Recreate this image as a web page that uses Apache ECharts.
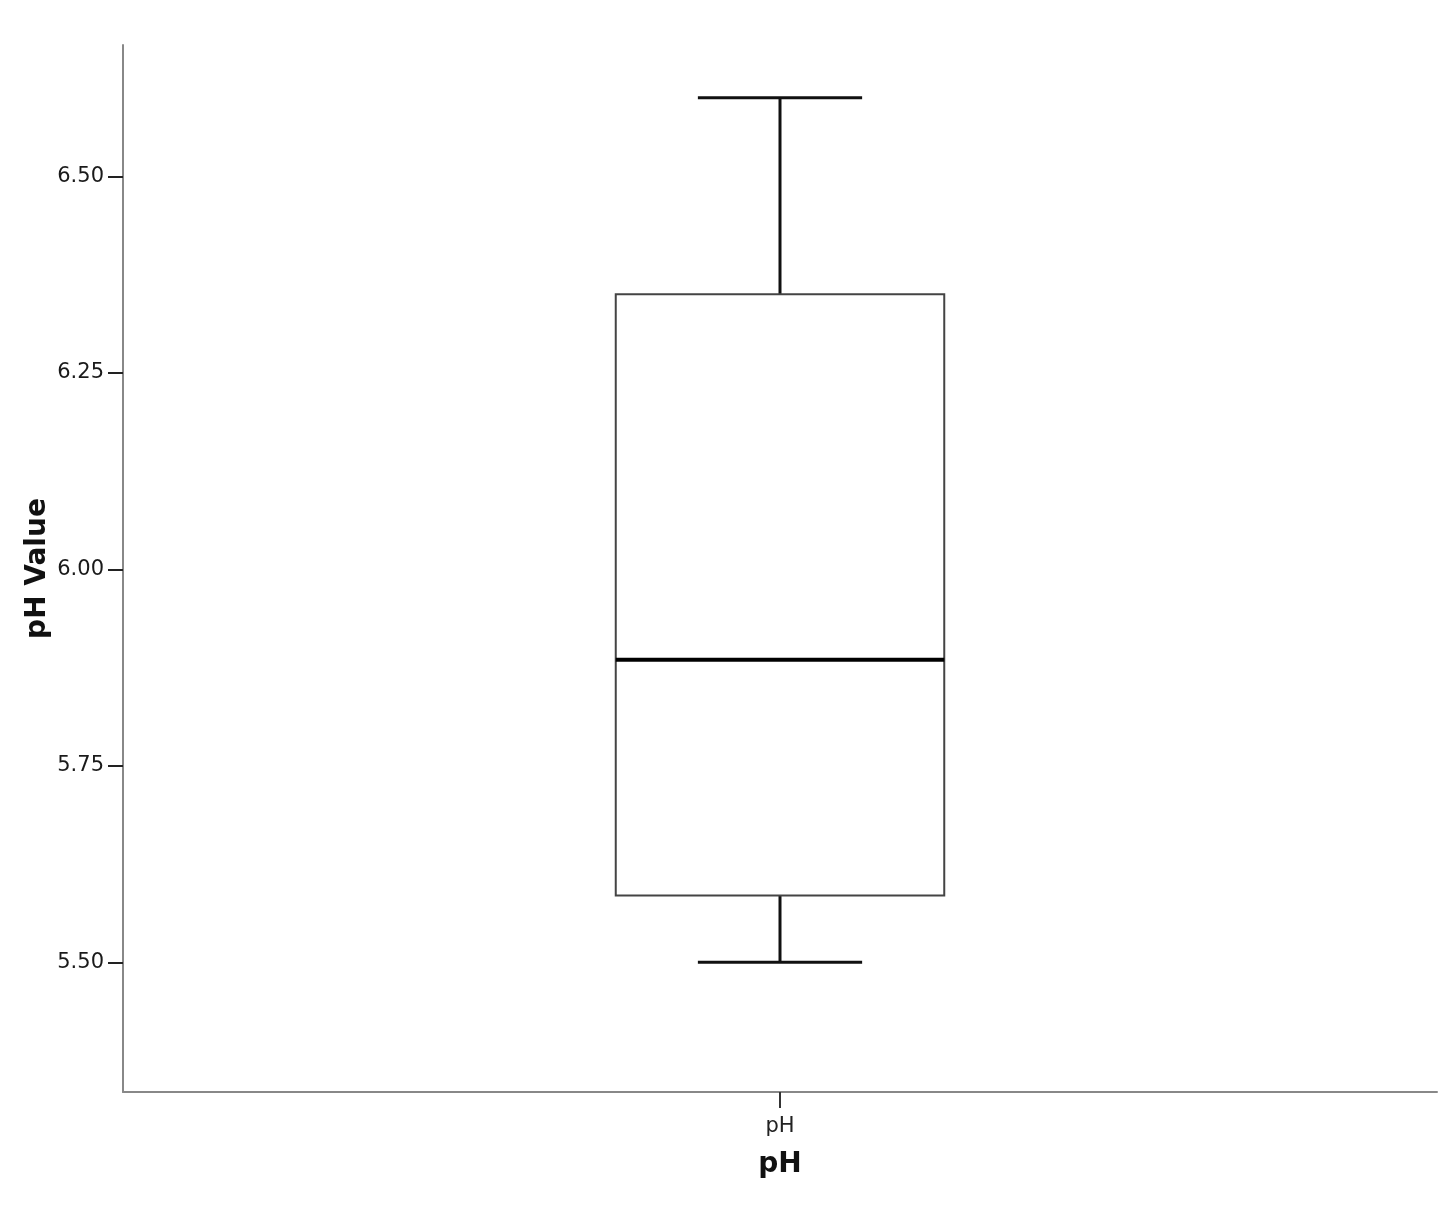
<!DOCTYPE html>
<html>
<head>
<meta charset="utf-8">
<script src="https://cdn.jsdelivr.net/npm/echarts@6/dist/echarts.min.js"></script>
<style>
html,body{margin:0;padding:0;background:#fff;}
#chart{width:1440px;height:1229px;}
</style>
</head>
<body>
<div id="chart"></div>
<script>
const categories = ['pH'];
const whiskerLow = [5.50];
const q1Values = [5.585];
const medianValues = [5.885];
const q3Values = [6.35];
const whiskerHigh = [6.60];
const yTickValues = [5.50, 5.75, 6.00, 6.25, 6.50];

const data = categories.map((c, i) => [i, whiskerLow[i], q1Values[i], medianValues[i], q3Values[i], whiskerHigh[i]]);

const chart = echarts.init(document.getElementById('chart'));
chart.setOption({
  animation: false,
  backgroundColor: '#fff',
  grid: { left: 123, right: 3, top: 45, bottom: 137 },
  xAxis: {
    type: 'category',
    data: categories,
    name: 'pH',
    nameLocation: 'middle',
    nameGap: 59,
    nameMoveOverlap: false,
    nameTextStyle: { fontFamily: 'DejaVu Sans', fontWeight: 'bold', fontSize: 28, color: '#111' },
    axisLine: { lineStyle: { color: '#888', width: 2 } },
    axisTick: { show: true, alignWithLabel: true, interval: 0, length: 16, lineStyle: { color: '#333', width: 2 } },
    axisLabel: { fontFamily: 'DejaVu Sans', fontSize: 21, color: '#222', margin: 24 },
    splitLine: { show: false }
  },
  yAxis: {
    type: 'value',
    min: 5.335,
    max: 6.667,
    name: 'pH Value',
    nameLocation: 'middle',
    nameGap: 71,
    nameMoveOverlap: false,
    nameTextStyle: { fontFamily: 'DejaVu Sans', fontWeight: 'bold', fontSize: 28, color: '#111' },
    axisLine: { show: true, lineStyle: { color: '#888', width: 2 } },
    axisTick: { show: true, length: 15, customValues: yTickValues, lineStyle: { color: '#222', width: 2 } },
    axisLabel: { fontFamily: 'DejaVu Sans', fontSize: 21, color: '#1a1a1a', margin: 19,
      customValues: yTickValues, formatter: v => v.toFixed(2) },
    splitLine: { show: false }
  },
  series: [{
    type: 'custom',
    data: data,
    encode: { x: 0, y: [1, 2, 3, 4, 5] },
    renderItem: function (params, api) {
      const x = api.value(0);
      const band = api.size([1, 0])[0];
      const boxW = band * 0.25;
      const capW = band * 0.125;
      const pLow = api.coord([x, api.value(1)]);
      const pQ1 = api.coord([x, api.value(2)]);
      const pMed = api.coord([x, api.value(3)]);
      const pQ3 = api.coord([x, api.value(4)]);
      const pHigh = api.coord([x, api.value(5)]);
      const cx = pLow[0];
      const whiskerStyle = { stroke: '#111', lineWidth: 3, fill: null };
      return {
        type: 'group',
        children: [
          { type: 'line', shape: { x1: cx, y1: pHigh[1], x2: cx, y2: pQ3[1] }, style: whiskerStyle },
          { type: 'line', shape: { x1: cx - capW / 2, y1: pHigh[1], x2: cx + capW / 2, y2: pHigh[1] }, style: whiskerStyle },
          { type: 'line', shape: { x1: cx, y1: pQ1[1], x2: cx, y2: pLow[1] }, style: whiskerStyle },
          { type: 'line', shape: { x1: cx - capW / 2, y1: pLow[1], x2: cx + capW / 2, y2: pLow[1] }, style: whiskerStyle },
          { type: 'rect', shape: { x: cx - boxW / 2, y: pQ3[1], width: boxW, height: pQ1[1] - pQ3[1] },
            style: { fill: '#fff', stroke: '#444', lineWidth: 2 } },
          { type: 'line', shape: { x1: cx - boxW / 2, y1: pMed[1], x2: cx + boxW / 2, y2: pMed[1] },
            style: { stroke: '#000', lineWidth: 4 } }
        ]
      };
    }
  }]
});
</script>
</body>
</html>
